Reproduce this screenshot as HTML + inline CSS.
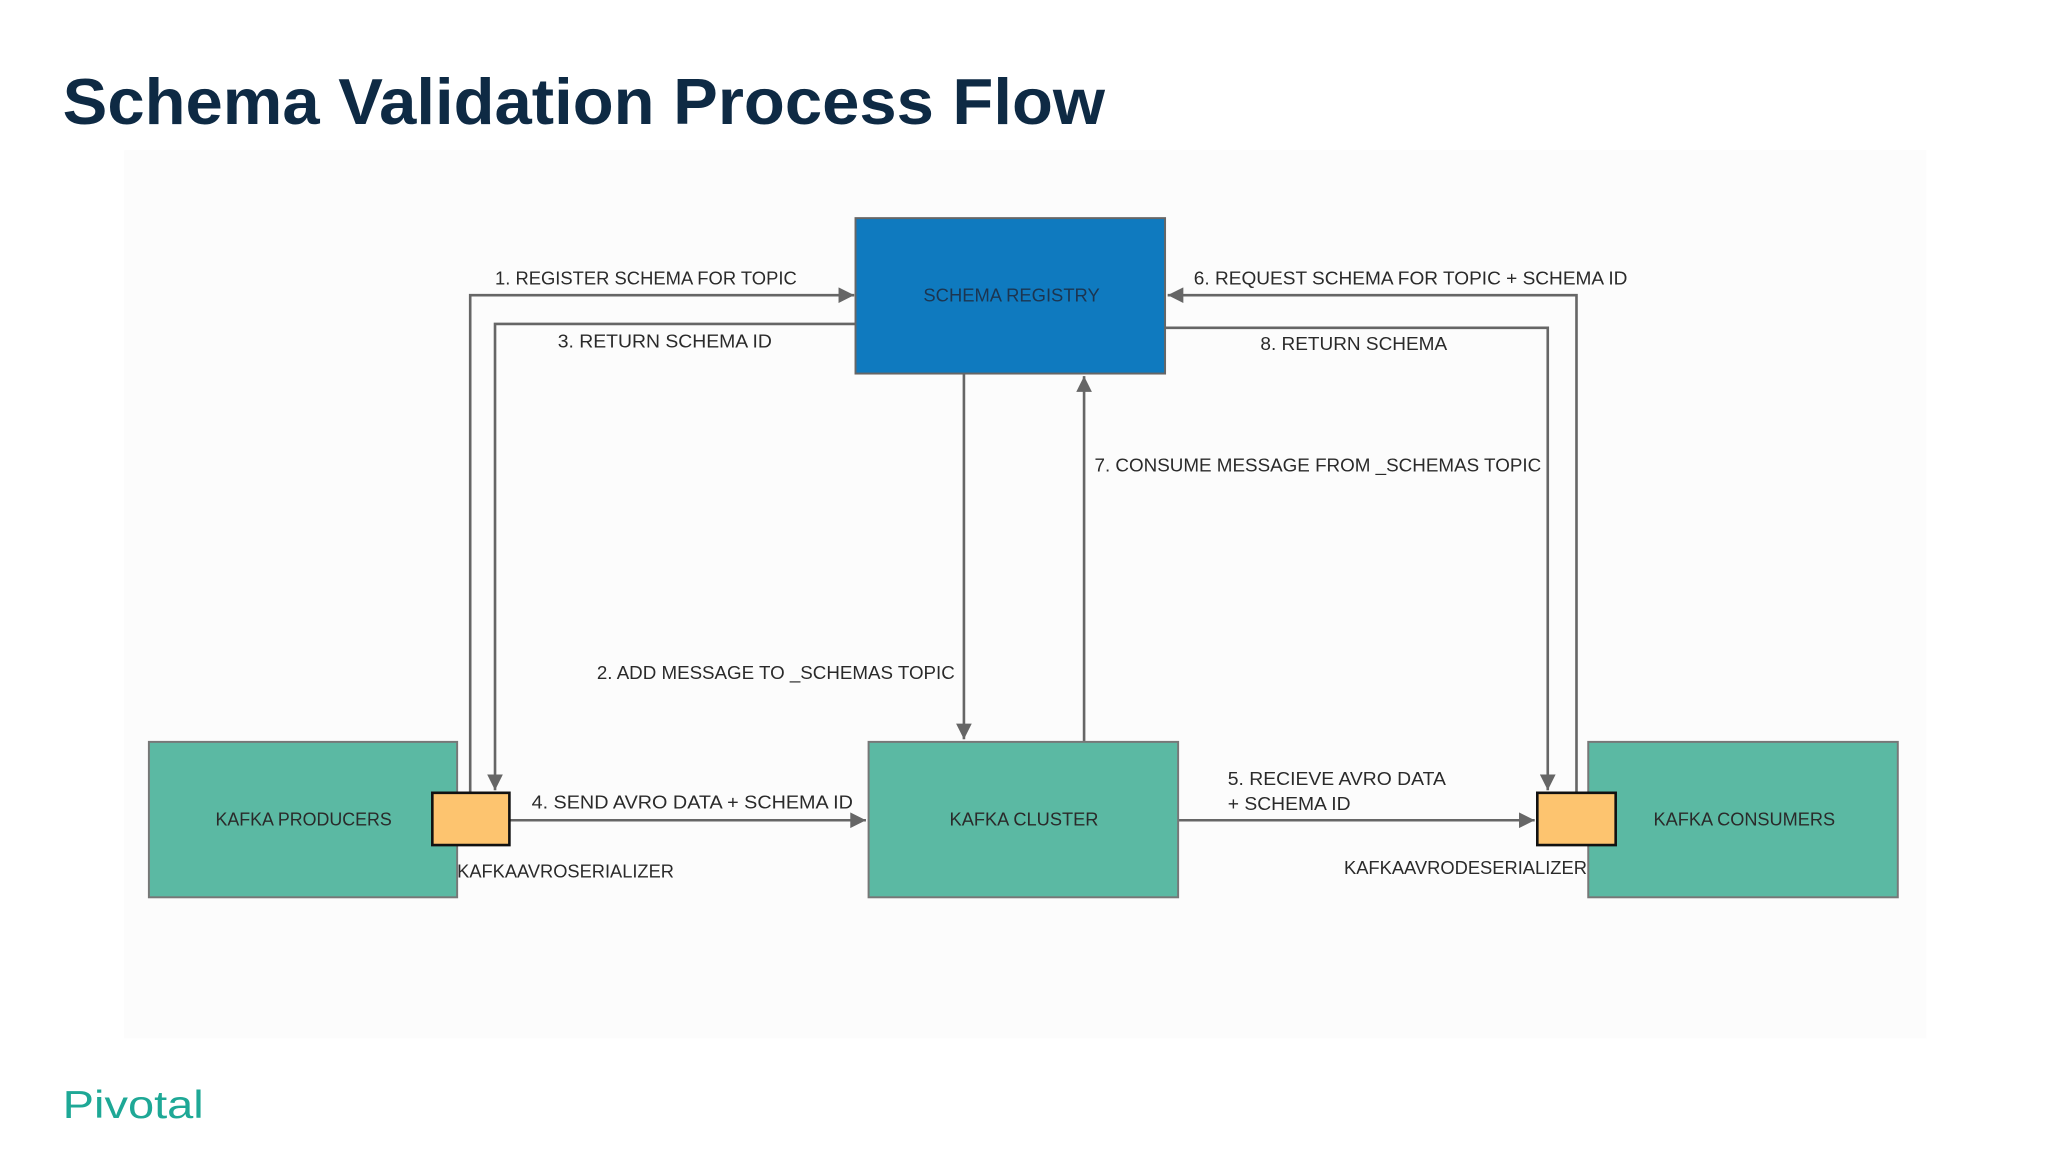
<!DOCTYPE html>
<html><head><meta charset="utf-8"><style>
html,body{margin:0;padding:0;background:#fff;}
svg{display:block}
.t{font-family:"Liberation Sans",sans-serif;font-size:14px;fill:#2a2a2a;}
</style></head><body>
<svg width="2048" height="1152" viewBox="0 0 1568 882" xmlns="http://www.w3.org/2000/svg">
<defs>
<marker id="b" viewBox="0 0 10 10" refX="10" refY="5" markerWidth="16" markerHeight="12" orient="auto" markerUnits="userSpaceOnUse"><path d="M0,0L10,5L0,10z" fill="#666"/></marker></defs>
<rect width="1568" height="882" fill="#fff"/>
<rect x="95" y="115" width="1380" height="680" fill="#fcfcfc"/>
<text x="48" y="95" font-family="Liberation Sans,sans-serif" font-weight="bold" font-size="50" fill="#0e2a44" textLength="798" lengthAdjust="spacingAndGlyphs">Schema Validation Process Flow</text>
<text x="48" y="856" font-family="Liberation Sans,sans-serif" font-size="30" fill="#1ea896" textLength="108" lengthAdjust="spacingAndGlyphs">Pivotal</text>
<g fill="none" stroke="#666" stroke-width="2">
<path d="M360,607V226H654" marker-end="url(#b)"/>
<path d="M655,248H379V605" marker-end="url(#b)"/>
<path d="M738,286V566" marker-end="url(#b)"/>
<path d="M830,568V288" marker-end="url(#b)"/>
<path d="M1207,607V226H894" marker-end="url(#b)"/>
<path d="M892,251H1185V605" marker-end="url(#b)"/>
<path d="M390,628H663" marker-end="url(#b)"/>
<path d="M902,628H1175" marker-end="url(#b)"/>
</g>
<rect x="655" y="167" width="237" height="119" fill="#0f7abf" stroke="#666" stroke-width="1.5"/>
<rect x="114" y="568" width="236" height="119" fill="#5bb9a3" stroke="#777" stroke-width="1.5"/>
<rect x="665" y="568" width="237" height="119" fill="#5bb9a3" stroke="#777" stroke-width="1.5"/>
<rect x="1216" y="568" width="237" height="119" fill="#5bb9a3" stroke="#777" stroke-width="1.5"/>
<rect x="331" y="607" width="59" height="40" fill="#fdc46f" stroke="#111" stroke-width="2"/>
<rect x="1177" y="607" width="60" height="40" fill="#fdc46f" stroke="#111" stroke-width="2"/>
<text class="t" x="707" y="231" textLength="135" lengthAdjust="spacingAndGlyphs" style="fill:#1c3550">SCHEMA REGISTRY</text>
<text class="t" x="165" y="632" textLength="135" lengthAdjust="spacingAndGlyphs">KAFKA PRODUCERS</text>
<text class="t" x="727" y="632" textLength="114" lengthAdjust="spacingAndGlyphs">KAFKA CLUSTER</text>
<text class="t" x="1266" y="632" textLength="139" lengthAdjust="spacingAndGlyphs">KAFKA CONSUMERS</text>
<text class="t" x="379" y="218" textLength="231" lengthAdjust="spacingAndGlyphs">1. REGISTER SCHEMA FOR TOPIC</text>
<text class="t" x="427" y="266" textLength="164" lengthAdjust="spacingAndGlyphs">3. RETURN SCHEMA ID</text>
<text class="t" x="914" y="218" textLength="332" lengthAdjust="spacingAndGlyphs">6. REQUEST SCHEMA FOR TOPIC + SCHEMA ID</text>
<text class="t" x="965" y="268" textLength="143" lengthAdjust="spacingAndGlyphs">8. RETURN SCHEMA</text>
<text class="t" x="838" y="361" textLength="342" lengthAdjust="spacingAndGlyphs">7. CONSUME MESSAGE FROM _SCHEMAS TOPIC</text>
<text class="t" x="457" y="520" textLength="274" lengthAdjust="spacingAndGlyphs">2. ADD MESSAGE TO _SCHEMAS TOPIC</text>
<text class="t" x="407" y="619" textLength="246" lengthAdjust="spacingAndGlyphs">4. SEND AVRO DATA + SCHEMA ID</text>
<text class="t" x="940" y="601" textLength="167" lengthAdjust="spacingAndGlyphs">5. RECIEVE AVRO DATA</text>
<text class="t" x="940" y="620" textLength="94" lengthAdjust="spacingAndGlyphs">+ SCHEMA ID</text>
<text class="t" x="350" y="672" textLength="166" lengthAdjust="spacingAndGlyphs">KAFKAAVROSERIALIZER</text>
<text class="t" x="1029" y="669" textLength="186" lengthAdjust="spacingAndGlyphs">KAFKAAVRODESERIALIZER</text>
</svg>
</body></html>
